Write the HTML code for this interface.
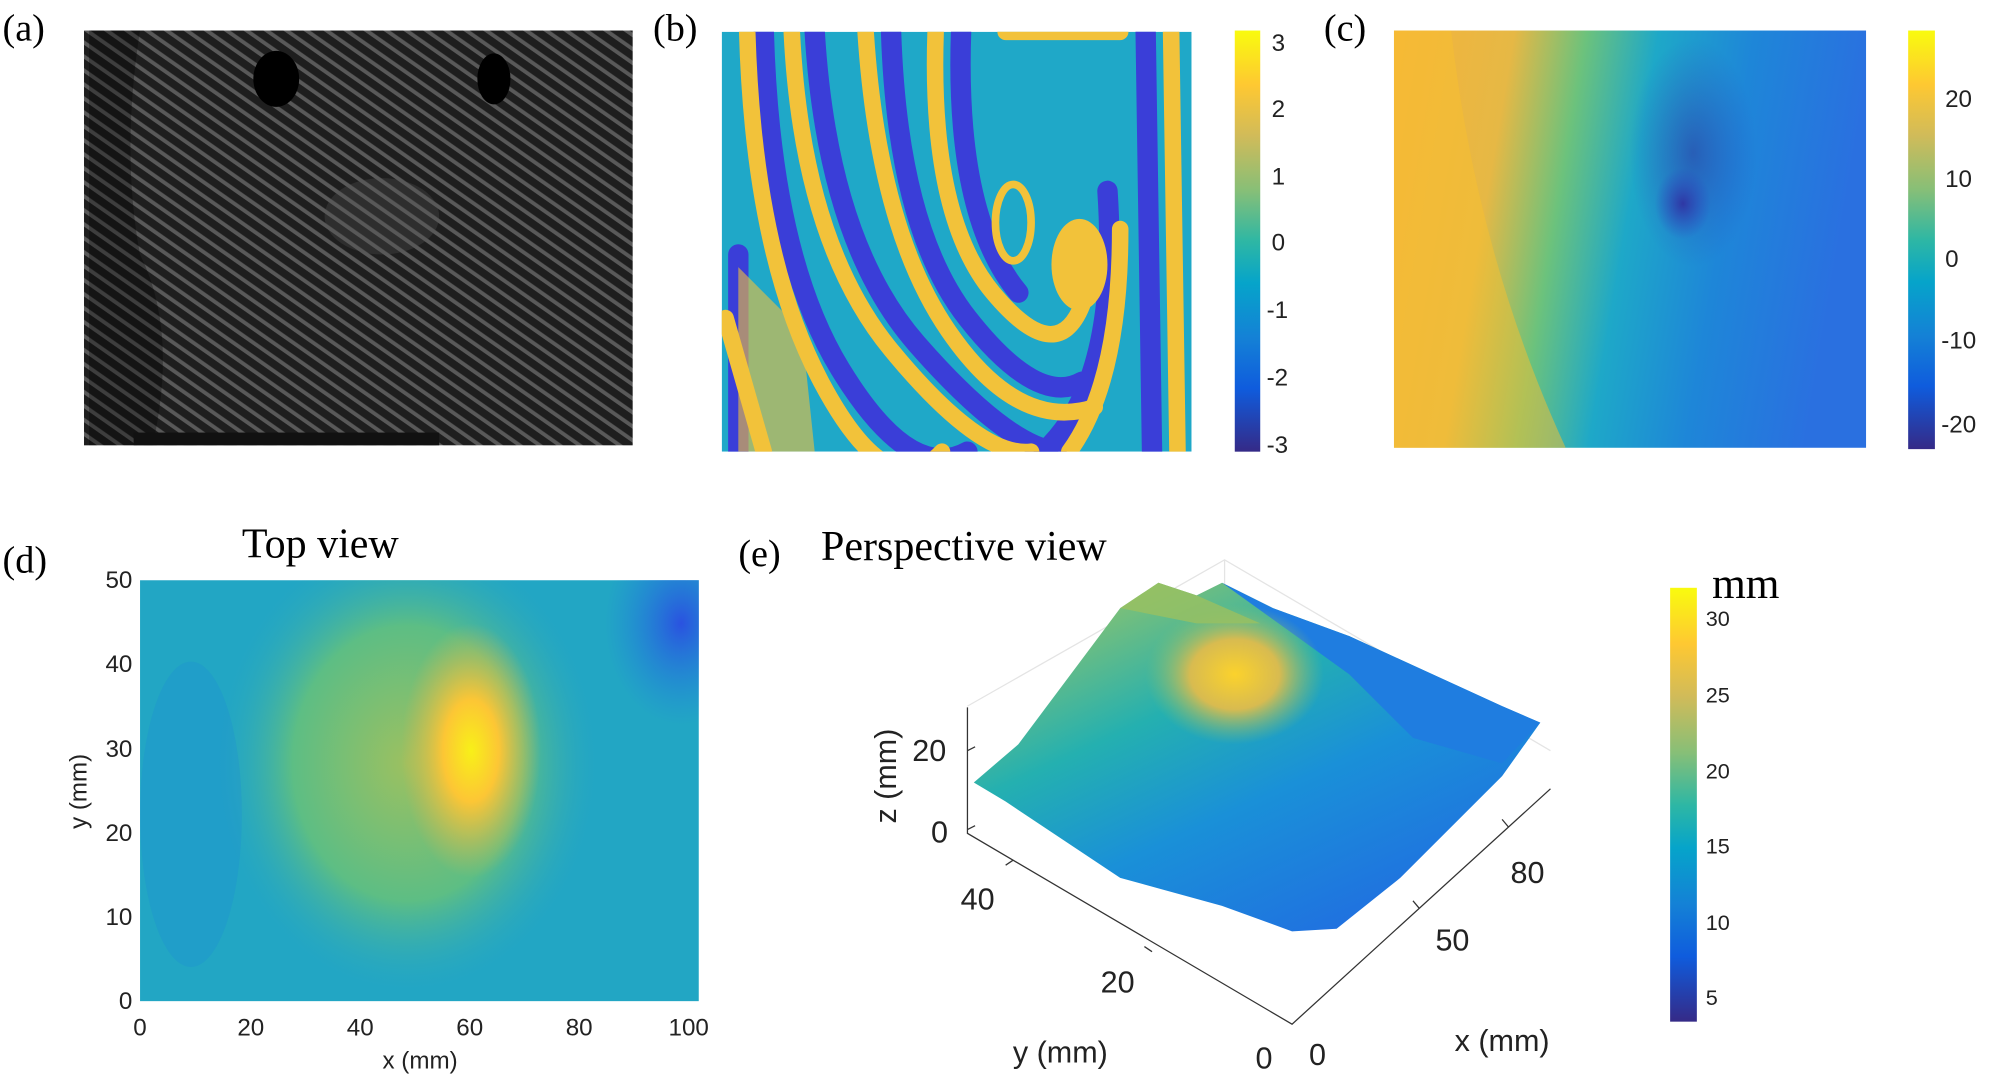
<!DOCTYPE html>
<html><head><meta charset="utf-8"><style>
html,body{margin:0;padding:0;background:#fff;}
svg{display:block;}
</style></head><body>
<svg width="1996" height="1084" viewBox="0 0 1568 852" preserveAspectRatio="none" xmlns="http://www.w3.org/2000/svg" font-family="Liberation Sans, sans-serif">
<defs>
<linearGradient id="parula" x1="0" y1="1" x2="0" y2="0">
<stop offset="0" stop-color="#352a87"/><stop offset="0.15" stop-color="#0f5cdd"/><stop offset="0.27" stop-color="#1481d6"/><stop offset="0.4" stop-color="#06a4ca"/><stop offset="0.5" stop-color="#2eb7a4"/><stop offset="0.62" stop-color="#87bf77"/><stop offset="0.75" stop-color="#d1bb59"/><stop offset="0.87" stop-color="#fec832"/><stop offset="1" stop-color="#f9fb0e"/>
</linearGradient>
<pattern id="stripes" width="9" height="9" patternUnits="userSpaceOnUse" patternTransform="rotate(-55)">
<rect width="9" height="9" fill="#262626"/><rect width="3" height="9" fill="#707070"/>
</pattern>
<linearGradient id="cgrad" x1="0" y1="0" x2="1" y2="0.15">
<stop offset="0" stop-color="#f5b43a"/><stop offset="0.25" stop-color="#e6b845"/><stop offset="0.4" stop-color="#6cc27c"/><stop offset="0.55" stop-color="#1ea8c8"/><stop offset="0.75" stop-color="#1e86d8"/><stop offset="1" stop-color="#2a70e0"/>
</linearGradient>
<radialGradient id="cspot" cx="0.5" cy="0.5" r="0.5">
<stop offset="0" stop-color="#3030a0" stop-opacity="0.9"/><stop offset="1" stop-color="#3040c0" stop-opacity="0"/>
</radialGradient>
<radialGradient id="dface" cx="0.5" cy="0.5" r="0.5">
<stop offset="0" stop-color="#9cc060"/><stop offset="0.6" stop-color="#5dbe84"/><stop offset="1" stop-color="#2aa8c0" stop-opacity="0"/>
</radialGradient>
<radialGradient id="dnose" cx="0.5" cy="0.5" r="0.5">
<stop offset="0" stop-color="#f8f018"/><stop offset="0.4" stop-color="#fcc635"/><stop offset="1" stop-color="#d6b84f" stop-opacity="0"/>
</radialGradient>
<radialGradient id="dcorner" cx="0.5" cy="0.5" r="0.5">
<stop offset="0" stop-color="#2a52e0"/><stop offset="1" stop-color="#1e80e0" stop-opacity="0"/>
</radialGradient>
<linearGradient id="egrad" x1="0.2" y1="0.1" x2="0.8" y2="0.9">
<stop offset="0" stop-color="#7cc078"/><stop offset="0.3" stop-color="#24b0b0"/><stop offset="0.6" stop-color="#1a90d8"/><stop offset="1" stop-color="#2070e0"/>
</linearGradient>
<radialGradient id="enose" cx="0.5" cy="0.5" r="0.5">
<stop offset="0" stop-color="#fbd22c"/><stop offset="0.5" stop-color="#d8bb50"/><stop offset="1" stop-color="#80c070" stop-opacity="0"/>
</radialGradient>
<clipPath id="clipd"><rect x="110" y="456" width="439" height="331"/></clipPath>
<clipPath id="clipc"><rect x="1095" y="24" width="371" height="328"/></clipPath>
</defs>

<!-- (a) -->
<text x="2" y="32" font-size="30" font-family="Liberation Serif, serif">(a)</text>
<rect x="66" y="24" width="431" height="326" fill="url(#stripes)"/>
<rect x="66" y="24" width="431" height="326" fill="#000" opacity="0.2"/>
<path d="M70,24 L70,350 L120,350 Q140,260 110,200 Q95,120 110,24 Z" fill="#000" opacity="0.3"/>
<ellipse cx="300" cy="170" rx="45" ry="30" fill="#555" opacity="0.3"/>
<ellipse cx="217" cy="62" rx="18" ry="22" fill="#000"/>
<ellipse cx="388" cy="62" rx="13" ry="20" fill="#000"/>
<rect x="105" y="340" width="240" height="10" fill="#111"/>

<!-- (b) -->
<text x="513" y="32" font-size="30" font-family="Liberation Serif, serif">(b)</text>
<svg x="567" y="25" width="369" height="330" viewBox="567 25 369 330">
<rect x="567" y="25" width="369" height="330" fill="#1fa8c8"/>
<g fill="none" stroke-linecap="round">
<g stroke="#3a3ed8" stroke-width="16">
<path d="M600,25 Q605,200 660,290 T760,355"/>
<path d="M640,25 Q650,190 720,270 T830,355"/>
<path d="M700,25 Q705,180 760,250 T850,300"/>
<path d="M755,25 Q750,170 800,230"/>
<path d="M900,25 L905,355"/>
<path d="M870,150 Q880,300 820,355"/>
<path d="M580,200 L580,355"/>
</g>
<g stroke="#f2c23a" stroke-width="13">
<path d="M587,25 Q592,200 645,300 T740,355"/>
<path d="M622,25 Q630,190 700,275 T810,355"/>
<path d="M680,25 Q690,180 745,260 T860,320"/>
<path d="M735,25 Q730,170 780,230 T850,240"/>
<path d="M920,25 L925,355"/>
<path d="M880,180 Q880,300 840,355"/>
<path d="M570,250 L600,355"/>
<path d="M790,25 L880,25"/>
</g>
</g>
<ellipse cx="848" cy="208" rx="22" ry="36" fill="#f2c23a"/>
<ellipse cx="796" cy="175" rx="14" ry="30" fill="none" stroke="#f2c23a" stroke-width="6"/>
<path d="M580,210 L630,260 L640,355 L580,355 Z" fill="#f2c23a" opacity="0.6"/>
</svg>
<rect x="970" y="24" width="20" height="331" fill="url(#parula)"/>
<g font-size="19" fill="#222">
<text x="999" y="40">3</text><text x="999" y="92">2</text><text x="999" y="145">1</text><text x="999" y="197">0</text><text x="995" y="250">-1</text><text x="995" y="303">-2</text><text x="995" y="356">-3</text>
</g>

<!-- (c) -->
<text x="1040" y="32" font-size="30" font-family="Liberation Serif, serif">(c)</text>
<g clip-path="url(#clipc)">
<rect x="1095" y="24" width="371" height="328" fill="url(#cgrad)"/>
<path d="M1095,24 L1140,24 Q1160,200 1230,352 L1095,352 Z" fill="#f8c030" opacity="0.5"/>
<ellipse cx="1330" cy="120" rx="50" ry="90" fill="url(#cspot)" opacity="0.6"/>
<ellipse cx="1322" cy="160" rx="22" ry="28" fill="url(#cspot)"/>
</g>
<rect x="1499" y="24" width="21" height="329" fill="url(#parula)"/>
<g font-size="19" fill="#222">
<text x="1528" y="84">20</text><text x="1528" y="147">10</text><text x="1528" y="210">0</text><text x="1525" y="274">-10</text><text x="1525" y="340">-20</text>
</g>

<!-- (d) -->
<text x="2" y="450" font-size="30" font-family="Liberation Serif, serif">(d)</text>
<text x="190" y="438" font-size="33" font-family="Liberation Serif, serif">Top view</text>
<g clip-path="url(#clipd)">
<rect x="110" y="456" width="439" height="331" fill="#22a6c4"/>
<ellipse cx="320" cy="600" rx="150" ry="180" fill="url(#dface)"/>
<ellipse cx="370" cy="590" rx="55" ry="100" fill="url(#dnose)"/>
<ellipse cx="535" cy="490" rx="60" ry="80" fill="url(#dcorner)"/>
<ellipse cx="150" cy="640" rx="40" ry="120" fill="#1d86d8" opacity="0.25"/>
</g>
<g font-size="19" fill="#222" text-anchor="end">
<text x="104" y="462">50</text><text x="104" y="528">40</text><text x="104" y="595">30</text><text x="104" y="661">20</text><text x="104" y="727">10</text><text x="104" y="793">0</text>
</g>
<g font-size="19" fill="#222" text-anchor="middle">
<text x="110" y="814">0</text><text x="197" y="814">20</text><text x="283" y="814">40</text><text x="369" y="814">60</text><text x="455" y="814">80</text><text x="541" y="814">100</text>
<text x="330" y="840">x (mm)</text>
<text transform="translate(68,622) rotate(-90)">y (mm)</text>
</g>

<!-- (e) -->
<text x="580" y="445" font-size="30" font-family="Liberation Serif, serif">(e)</text>
<text x="645" y="440" font-size="33" font-family="Liberation Serif, serif">Perspective view</text>
<g stroke="#e4e4e4" stroke-width="1" fill="none">
<path d="M760,555 L962,440 L1218,590"/><path d="M962,440 L962,560"/>
</g>
<path d="M765,615 L800,585 L880,478 L910,458 L940,468 L960,458 L1000,478 L1060,500 L1180,555 L1210,568 L1180,610 L1100,690 L1050,730 L1015,732 L960,712 L880,690 L790,630 Z" fill="url(#egrad)"/>
<path d="M960,458 L1000,478 L1060,500 L1180,555 L1210,568 L1180,600 L1110,580 L1060,530 Z" fill="#1f7de0"/>
<ellipse cx="970" cy="530" rx="70" ry="55" fill="url(#enose)"/>
<path d="M880,478 L910,458 L940,468 L990,490 L940,490 Z" fill="#9ac060" opacity="0.8"/>
<g stroke="#333" stroke-width="1" fill="none">
<path d="M760,556 L760,655 L1015,805 L1218,620"/>
<path d="M760,590 L766,587"/><path d="M760,652 L766,649"/>
<path d="M790,680 L796,676"/><path d="M905,748 L899,744"/>
<path d="M1115,714 L1110,708"/><path d="M1185,650 L1180,644"/>
</g>
<g font-size="24" fill="#222" text-anchor="middle">
<text x="730" y="598">20</text><text x="738" y="662">0</text>
<text x="768" y="715">40</text><text x="878" y="780">20</text>
<text x="1141" y="747">50</text><text x="1200" y="694">80</text>
<text x="993" y="840">0</text><text x="1035" y="837">0</text>
<text x="833" y="835">y (mm)</text><text x="1180" y="826">x (mm)</text>
<text transform="translate(704,610) rotate(-90)">z (mm)</text>
</g>
<rect x="1312" y="462" width="21" height="341" fill="url(#parula)"/>
<text x="1345" y="470" font-size="34" font-family="Liberation Serif, serif">mm</text>
<g font-size="17" fill="#222">
<text x="1340" y="492">30</text><text x="1340" y="552">25</text><text x="1340" y="612">20</text><text x="1340" y="671">15</text><text x="1340" y="731">10</text><text x="1340" y="790">5</text>
</g>
</svg>
</body></html>
